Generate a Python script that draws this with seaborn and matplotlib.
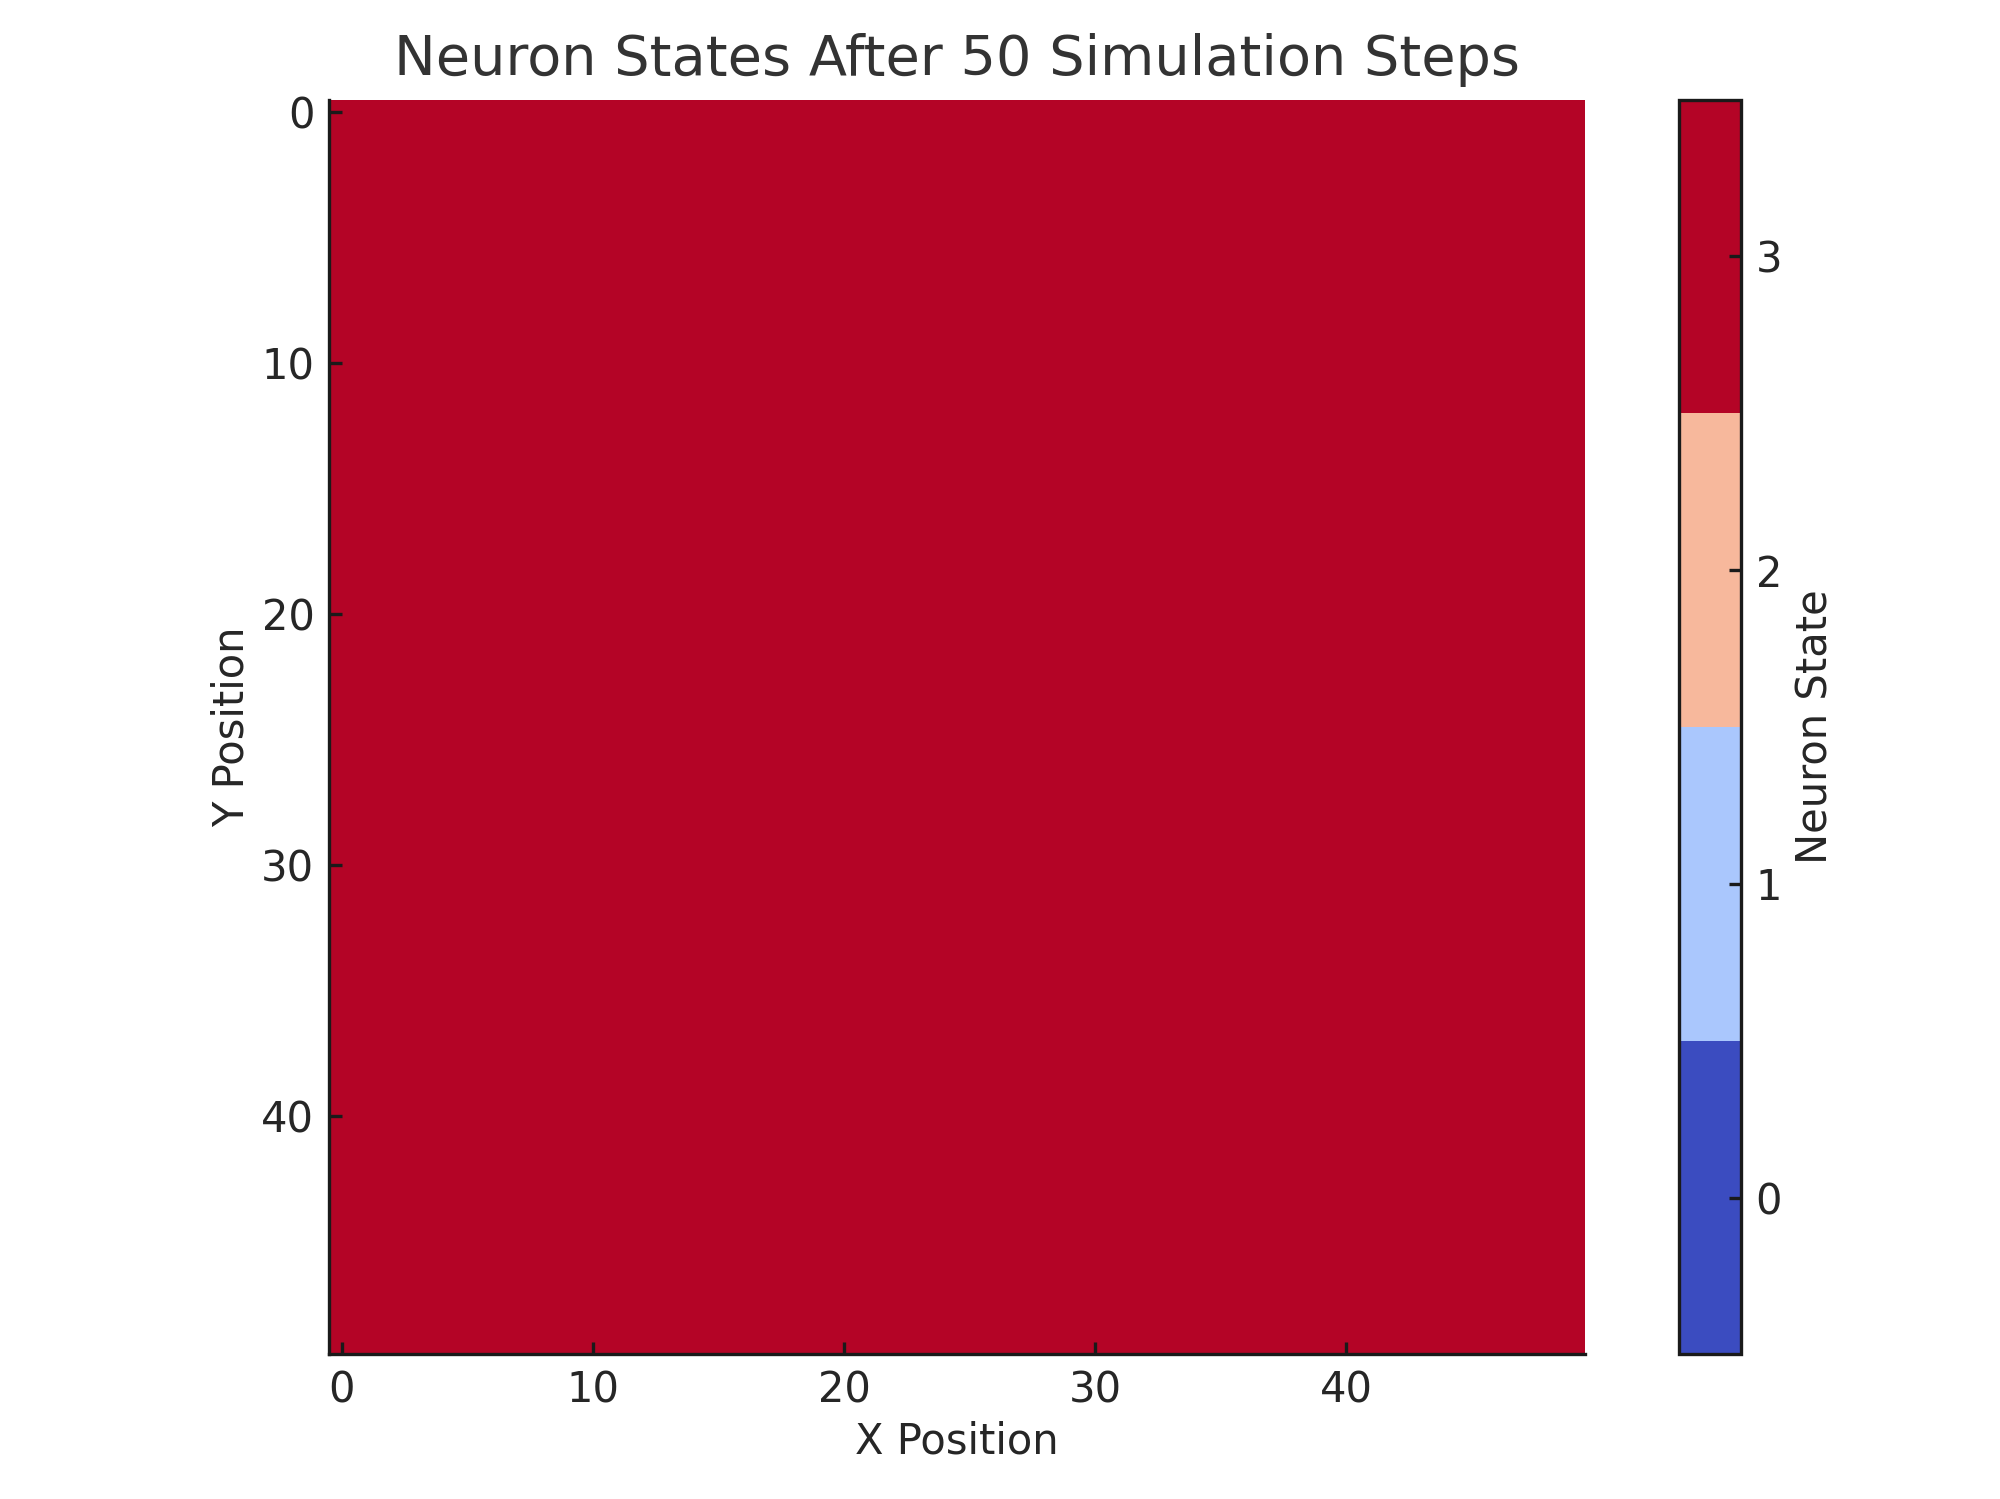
import numpy as np
import pandas as pd
import matplotlib
matplotlib.use("Agg")
import matplotlib.pyplot as plt
import seaborn as sns

# ---- data ----
grid_size = 50
final_state_value = 3  # every neuron ends in state 3 after 50 steps
neuron_states = np.full((grid_size, grid_size), final_state_value)
state_levels = [0, 1, 2, 3]
axis_ticks = [0, 10, 20, 30, 40]
title_text = "Neuron States After 50 Simulation Steps"
x_label = "X Position"
y_label = "Y Position"
cbar_label = "Neuron State"

sns.set_style("ticks")
plt.rcParams["font.family"] = ["DejaVu Sans"]
plt.rcParams["axes.axisbelow"] = False
plt.rcParams["text.color"] = "#262626"
plt.rcParams["axes.labelcolor"] = "#262626"
plt.rcParams["xtick.color"] = "#262626"
plt.rcParams["ytick.color"] = "#262626"

fig = plt.figure(figsize=(2000 / 300, 1499 / 300), dpi=300)
ax = fig.add_axes([0.1645, 0.0964, 0.628, 0.8372])
cax = fig.add_axes([0.8395, 0.0964, 0.031, 0.8372])

cmap = plt.get_cmap("coolwarm", len(state_levels))
sns.heatmap(neuron_states, cmap=cmap, vmin=min(state_levels) - 0.5,
            vmax=max(state_levels) + 0.5, ax=ax, cbar_ax=cax,
            xticklabels=False, yticklabels=False)

ax.set_axisbelow(False)
cax.set_axisbelow(False)
ax.xaxis.set_ticks_position("bottom")
ax.yaxis.set_ticks_position("left")
ax.set_xticks([t + 0.5 for t in axis_ticks])
ax.set_xticklabels([str(t) for t in axis_ticks], rotation=0, fontsize=10)
ax.set_yticks([t + 0.5 for t in axis_ticks])
ax.set_yticklabels([str(t) for t in axis_ticks], rotation=0, fontsize=10)
ax.tick_params(direction="in", length=3.0, width=0.8,
               left=True, bottom=True, right=False, top=False,
               labelleft=True, labelbottom=True, labelright=False, labeltop=False,
               colors="#1a1a1a", labelcolor="#262626", pad=3.5)
for side in ["left", "bottom"]:
    ax.spines[side].set_visible(True)
    ax.spines[side].set_color("#1a1a1a")
    ax.spines[side].set_linewidth(0.8)
for side in ["top", "right"]:
    ax.spines[side].set_visible(False)
ax.set_xlabel(x_label, fontsize=10, labelpad=2.2)
ax.set_ylabel(y_label, fontsize=10, labelpad=2.2)
ax.set_title(title_text, fontsize=13.4, color="#333333")

cbar = ax.collections[0].colorbar
cbar.set_ticks(state_levels)
cbar.set_ticklabels([str(s) for s in state_levels])
cbar.outline.set_linewidth(0.8)
cbar.outline.set_edgecolor("#1a1a1a")
cax.tick_params(direction="in", length=3.0, width=0.8, labelsize=10,
                colors="#1a1a1a", labelcolor="#262626")
cbar.set_label(cbar_label, fontsize=10, labelpad=3)

fig.savefig("out.png", dpi=300)
